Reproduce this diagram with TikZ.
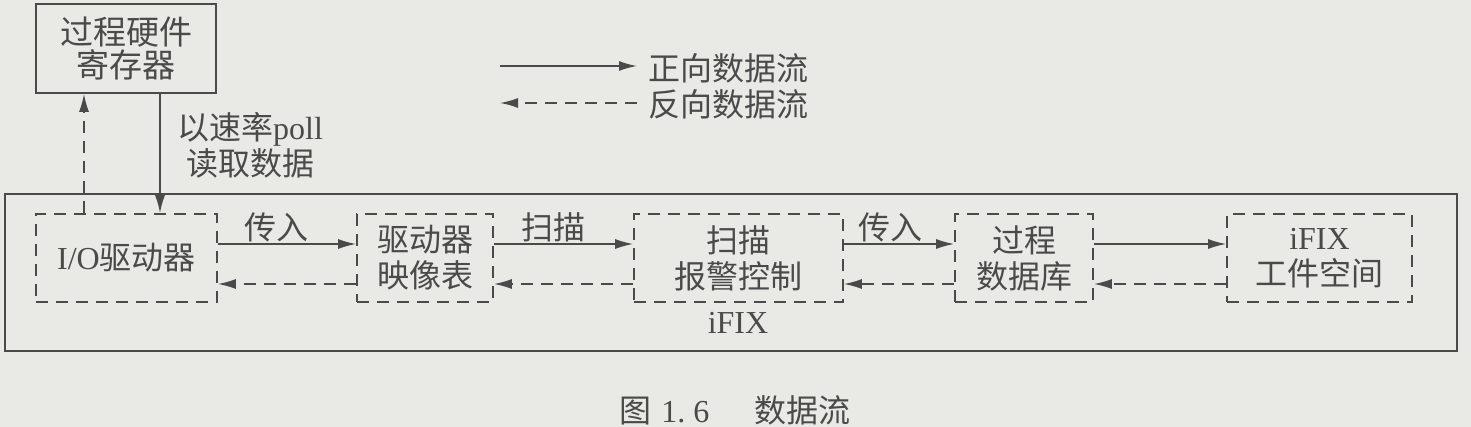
\documentclass[tikz,border=0pt]{standalone}
\usepackage{fontspec}
\setmainfont{Liberation Serif}
\newfontfamily\cjk{Noto Sans CJK SC}
\usetikzlibrary{arrows.meta}
\definecolor{paper}{HTML}{E9E9E5}
\definecolor{ink}{HTML}{4A4A4A}
\begin{document}
\begin{tikzpicture}[x=0.5pt,y=-0.5pt, font=\fontsize{16}{18}\selectfont, color=ink,
  dbox/.style={draw, dash pattern=on 6pt off 4pt, line width=0.8pt, inner sep=0pt, align=center, minimum height=44pt},
  sbox/.style={draw, line width=0.9pt, inner sep=0pt, align=center},
  fwd/.style={line width=0.8pt, -{Latex[length=9pt,width=5pt]}},
  bwd/.style={fwd, dash pattern=on 6pt off 4pt},
  lbl/.style={inner sep=0pt, align=center}]
\fill[paper] (0,0) rectangle (1471,427);
\useasboundingbox (0,0) rectangle (1471,427);
% outer iFIX box
\node[sbox, minimum width=726pt, minimum height=78.5pt] (outer) at (731,272.5) {};
% hardware register
\node[sbox, minimum width=90pt, minimum height=44.5pt, font=\fontsize{16.5}{16.5}\selectfont\cjk] (hw) at (126,48.5) {过程硬件\\寄存器};
% dashed boxes
\node[dbox, minimum width=90.5pt] (b1) at (126.5,258) {I/O{\cjk 驱动器}};
\node[dbox, minimum width=68pt, font=\fontsize{16}{18}\selectfont\cjk] (b2) at (425,258) {驱动器\\映像表};
\node[dbox, minimum width=104.5pt, font=\fontsize{16}{18}\selectfont\cjk] (b3) at (738.5,258) {扫描\\报警控制};
\node[dbox, minimum width=69pt, font=\fontsize{16}{18}\selectfont\cjk] (b4) at (1024,258) {过程\\数据库};
\node[dbox, minimum width=92.5pt] (b5) at (1319.5,258) {iFIX\\{\cjk 工件空间}};
% hardware links
\draw[fwd] (hw.south -| 160,0) -- (b1.north -| 160,0);
\draw[bwd] (b1.north -| 84,0) -- (hw.south -| 84,0);
\node[lbl, font=\fontsize{16}{16.5}\selectfont] (poll) at (250,145) {{\cjk 以速率}poll\\{\cjk 读取数据}};
% links between boxes
\foreach \a/\b in {b1/b2,b2/b3,b3/b4,b4/b5}{
  \draw[fwd] (\a.east |- 0,244) -- (\b.west |- 0,244);
  \draw[bwd] (\b.west |- 0,284) -- (\a.east |- 0,284);
}
\node[lbl, font=\fontsize{16}{18}\selectfont\cjk] (l1) at (276,227) {传入};
\node[lbl, font=\fontsize{16}{18}\selectfont\cjk] (l2) at (553,227) {扫描};
\node[lbl, font=\fontsize{16}{18}\selectfont\cjk] (l3) at (890,227) {传入};
\node[lbl] (ifix) at (738,323) {iFIX};
% legend
\coordinate (la) at (500,66);
\coordinate (lb) at (637,66);
\coordinate (lc) at (500,103);
\coordinate (ld) at (637,103);
\draw[fwd] (la) -- (lb);
\draw[bwd] (ld) -- (lc);
\node[lbl, anchor=west, font=\fontsize{16}{18}\selectfont\cjk] (t1) at (648,68) {正向数据流};
\node[lbl, anchor=west, font=\fontsize{16}{18}\selectfont\cjk] (t2) at (648,104) {反向数据流};
% caption
\node[lbl] (cap) at (735,410) {{\cjk 图}\hspace{0.3em}1.\hspace{0.25em}6\hspace{1.4em}{\cjk 数据流}};
\end{tikzpicture}
\end{document}
